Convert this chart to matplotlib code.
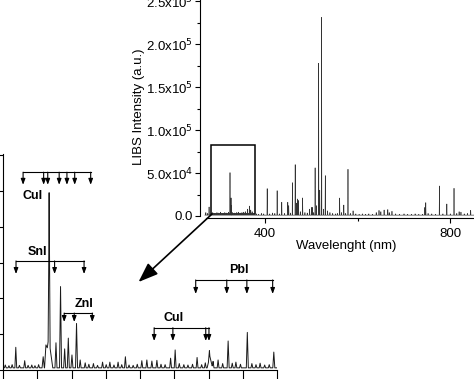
import numpy as np
import matplotlib
matplotlib.use("Agg")
import matplotlib.pyplot as plt
from matplotlib.patches import Rectangle, FancyArrowPatch
from matplotlib.ticker import MultipleLocator, FixedLocator, FixedFormatter

plt.rcParams['font.family'] = ['Liberation Sans', 'DejaVu Sans']

# ---- full LIBS spectrum (top panel): line position (nm), peak intensity (a.u.)
full_nm = [272, 276, 279, 283, 287, 291, 296, 300, 304, 309, 313, 317, 321,
           324.2, 326.5, 327.5, 330, 334, 338, 342, 346, 350, 354, 358, 362,
           366, 369, 372, 376, 381, 386, 392, 397, 404.5, 410, 416, 421, 426,
           431, 436, 442, 449, 451, 455, 459, 465, 468, 470, 472, 476, 481,
           486, 491, 496, 500, 502, 505, 508, 511, 515.6, 518, 522, 526, 530,
           535, 540, 546, 552, 556, 561, 565, 570, 574, 579, 584, 590, 596,
           603, 610, 617, 624, 632, 640, 646, 650, 657, 665, 668, 674, 682,
           690, 700, 708, 716, 724, 732, 740, 745, 747, 752, 760, 768, 776.5,
           784, 792.5, 800, 808, 814, 819, 823, 830, 837, 844, 852, 860]
full_int = [4000, 3000, 10500, 3500, 4000, 3000, 4000, 3500, 4500, 3000, 4000,
            3500, 4500, 50400, 21000, 12000, 4000, 3500, 4000, 4500, 3500, 4000,
            4500, 5000, 8000, 11600, 7000, 5000, 3000, 2500, 2000, 3000, 2500,
            31800, 2500, 3500, 3000, 29400, 2500, 16000, 3000, 16000, 12000,
            3500, 38700, 59700, 15000, 19800, 18000, 5000, 21000, 4000, 3500,
            8000, 10000, 10000, 4000, 56000, 12000, 177600, 30000, 231000,
            8000, 46900, 6000, 4000, 3000, 2500, 3000, 20900, 4000, 12800, 3000,
            54300, 3000, 6000, 2500, 2000, 2500, 2000, 2500, 2000, 4000, 6500,
            5000, 7000, 7500, 4000, 5500, 2500, 2000, 2500, 2000, 2000, 2500,
            2000, 2000, 10000, 15500, 3000, 2500, 2000, 34900, 2500, 14000,
            2500, 32200, 3000, 5000, 4500, 2500, 3000, 6600, 3000, 2500]
full_base = 1000

# ---- zoomed region (bottom panel): line position (nm), peak intensity, half width (nm)
zoom_nm = [315.5, 316.3, 317.0, 317.8, 318.6, 319.75, 320.5, 321.3, 322.0,
           322.8, 323.8, 324.4, 325.0, 325.1, 326.6, 327.6, 328.5, 329.3,
           330.1, 331.1, 331.9, 333.0, 333.8, 334.8, 335.7, 336.8, 337.6,
           338.4, 339.3, 340.2, 341.0, 341.8, 342.6, 343.5, 344.4, 345.4,
           346.5, 347.6, 348.7, 349.6, 350.5, 351.7, 352.7, 353.6, 354.6,
           355.5, 356.5, 357.5, 358.5, 359.3, 360.2, 360.3, 361.0, 362.1,
           363.1, 364.3, 365.2, 366.0, 367.0, 368.5, 369.5, 370.4, 371.3,
           372.3, 373.3, 374.3]
zoom_int = [1400, 1200, 1500, 6340, 1300, 2600, 1300, 1400, 1200, 1500, 3700,
            7000, 9000, 49500, 7600, 23300, 5900, 8900, 4200, 13000, 2800,
            2000, 1600, 1800, 1300, 2200, 1500, 2200, 1400, 2200, 1500, 3700,
            1400, 1300, 1600, 2600, 2800, 2500, 2700, 1600, 1500, 3300, 5600,
            1800, 1500, 1400, 1600, 3500, 1500, 2000, 5400, 3800, 2400, 2800,
            1800, 8100, 1900, 2200, 1600, 10500, 1800, 1500, 1900, 1400, 1500,
            5000]
zoom_width = [0.2, 0.2, 0.2, 0.2, 0.2, 0.2, 0.2, 0.2, 0.2, 0.2, 0.25, 0.3,
              0.9, 0.22, 0.22, 0.22, 0.22, 0.22, 0.22, 0.22, 0.2, 0.2, 0.2,
              0.2, 0.2, 0.2, 0.2, 0.2, 0.2, 0.2, 0.2, 0.2, 0.2, 0.2, 0.2, 0.2,
              0.2, 0.2, 0.2, 0.2, 0.2, 0.2, 0.2, 0.2, 0.2, 0.2, 0.2, 0.2, 0.2,
              0.2, 0.22, 0.6, 0.2, 0.2, 0.2, 0.22, 0.2, 0.2, 0.2, 0.22, 0.2,
              0.2, 0.2, 0.2, 0.2, 0.22]
zoom_base = 600

# element line groups marked in the zoomed panel
group_names = ["CuI", "SnI", "ZnI", "CuI", "PbI"]
group_lines = [[319.4, 323.9, 324.8, 327.3, 329.0, 330.7, 334.2],
               [317.85, 326.3, 332.75],
               [328.4, 330.6, 334.55],
               [348.1, 352.2, 359.4, 360.1],
               [357.2, 364.0, 368.4, 374.05]]

top_yticks = [0, 5e4, 1e5, 1.5e5, 2e5, 2.5e5]
top_yticklabels = ["0.0", r"5.0x10$^4$", r"1.0x10$^5$", r"1.5x10$^5$",
                   r"2.0x10$^5$", r"2.5x10$^5$"]
top_xticks = [400, 800]


def build_spectrum(nm, inten, width, base, lo, hi):
    nm = np.asarray(nm, float)
    inten = np.asarray(inten, float)
    width = np.asarray(width, float)
    x = np.sort(np.concatenate([[lo, hi], nm, nm - width, nm + width]))
    y = np.full_like(x, base)
    for c, h, w in zip(nm, inten, width):
        y = np.maximum(y, base + (h - base) * np.clip(1 - np.abs(x - c) / w, 0, None))
    return x, y


fig = plt.figure(figsize=(4.74, 3.79), dpi=100)

# ---------------- bottom (zoomed) panel ----------------
ax2 = fig.add_axes([3 / 474, 9 / 379, 274 / 474, 216 / 379])
zx, zy = build_spectrum(zoom_nm, zoom_int, zoom_width, zoom_base, 315, 375)
ax2.plot(zx, zy, color='0.1', lw=0.7)
ax2.set_xlim(315, 375)
ax2.set_ylim(0, 6.03e4)
ax2.xaxis.set_major_locator(MultipleLocator(7.5))
ax2.yaxis.set_major_locator(MultipleLocator(1e4))
for s in ['top', 'right']:
    ax2.spines[s].set_visible(False)
for s in ['left', 'bottom']:
    ax2.spines[s].set_linewidth(0.8)
ax2.tick_params(axis='x', direction='out', length=7, width=0.8, labelbottom=False)
ax2.tick_params(axis='y', direction='out', length=3, width=0.8, labelleft=False)
ax2.patch.set_alpha(0)

# bracket layout: (bar y, arrow tip y, label x, label y)
bracket_pos = [(55220, 51700, 321.5, 48600),
               (30450, 26800, 322.6, 33000),
               (15900, 13400, 332.7, 18300),
               (11800, 8100, 352.4, 14500),
               (25140, 21230, 366.7, 27850)]
for name, lines, (yb, yt, lx, ly) in zip(group_names, group_lines, bracket_pos):
    ax2.plot([min(lines), max(lines)], [yb, yb], color='k', lw=0.8)
    for l in lines:
        ax2.annotate('', xy=(l, yt), xytext=(l, yb),
                     arrowprops=dict(arrowstyle='-|>,head_length=0.35,head_width=0.13',
                                     mutation_scale=10, lw=0.8, color='k',
                                     shrinkA=0, shrinkB=0))
    ax2.text(lx, ly, name, fontsize=9, fontweight='bold', ha='center', va='center')

# ---------------- top (full spectrum) panel ----------------
ax1 = fig.add_axes([200 / 474, 161 / 379, 320 / 474, 228 / 379])
fx, fy = build_spectrum(full_nm, full_int, [0.5] * len(full_nm), full_base, 270, 950)
ax1.plot(fx, fy, color='0.2', lw=0.45)
ax1.set_xlim(259.4, 950.5)
ax1.set_ylim(-2326, 262800)
ax1.spines['top'].set_visible(False)
ax1.spines['right'].set_visible(False)
ax1.spines['left'].set_bounds(0, 262800)
ax1.spines['bottom'].set_bounds(272, 950.5)
for s in ['left', 'bottom']:
    ax1.spines[s].set_linewidth(0.8)
ax1.yaxis.set_major_locator(FixedLocator(top_yticks))
ax1.yaxis.set_major_formatter(FixedFormatter(top_yticklabels))
ax1.yaxis.set_minor_locator(MultipleLocator(2.5e4))
ax1.xaxis.set_major_locator(FixedLocator(top_xticks))
ax1.xaxis.set_minor_locator(MultipleLocator(200))
ax1.tick_params(which='major', direction='out', length=3.5, width=0.8,
                labelsize=9.5, pad=1.5)
ax1.tick_params(axis='x', which='major', pad=3.5)
ax1.tick_params(which='minor', direction='out', length=2, width=0.8)
ax1.set_xlabel("Wavelenght (nm)", fontsize=9.5)
ax1.set_ylabel("LIBS Intensity (a.u.)", fontsize=9.5)
ax1.xaxis.set_label_coords(0.458, -0.095)
ax1.yaxis.set_label_coords(-0.172, (379 - 107 - 161) / 228)
ax1.patch.set_alpha(0)

# box marking the zoomed region
ax1.add_patch(Rectangle((282.5, 2500), 95, 79700, fill=False, ec='k', lw=1.1))

# arrow from the box to the zoomed panel
fig.add_artist(FancyArrowPatch((212 / 474, 1 - 214 / 379), (138.5 / 474, 1 - 282 / 379),
                               transform=fig.transFigure,
                               arrowstyle='-|>,head_length=1.2,head_width=0.45',
                               mutation_scale=10, lw=1.2, color='k',
                               shrinkA=0, shrinkB=0))

fig.savefig("out.png", dpi=100)
